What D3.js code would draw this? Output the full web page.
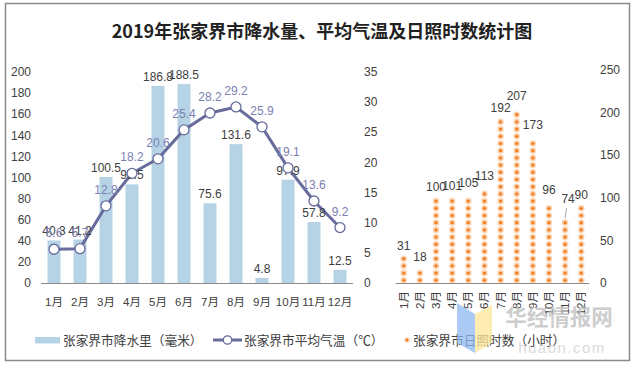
<!DOCTYPE html>
<html><head><meta charset="utf-8">
<script src="https://cdn.jsdelivr.net/npm/d3@7"></script>
<style>
html,body{margin:0;padding:0;background:#fff;}
svg{display:block;}
</style></head>
<body>
<svg id="c" width="636" height="366"></svg>
<script>
const months = ["1月","2月","3月","4月","5月","6月","7月","8月","9月","10月","11月","12月"];
const rainfall = [40.3,41.2,100.5,93.5,186.8,188.5,75.6,131.6,4.8,97.9,57.8,12.5];
const avgTemp = [5.6,5.7,12.8,18.2,20.6,25.4,28.2,29.2,25.9,19.1,13.6,9.2];
const sunHours = [31,18,100,101,105,113,192,207,173,96,74,90];
const rainTicks = [0,20,40,60,80,100,120,140,160,180,200];
const tempTicks = [0,5,10,15,20,25,30,35];
const sunTicks = [0,50,100,150,200,250];
const title = "2019年张家界市降水量、平均气温及日照时数统计图";
const legendLabels = ["张家界市降水里（毫米）","张家界市平均气温（℃）","张家界市日照时数（小时）"];

const svg = d3.select("#c");
const numFont = "'Liberation Sans', Arial, 'Noto Sans CJK SC', sans-serif";
const textCol = "#404040";
const barCol = "#b6d3e5";
const lineCol = "#676c9c";
const tempLabelCol = "#7a80b2";
const dotCol = "#f07a1c";
const dotHalo = "#fbd5b3";

// border
svg.append("rect").attr("x",5.5).attr("y",3.5).attr("width",624).attr("height",357)
  .attr("fill","#fff").attr("stroke","#8a8a8a").attr("stroke-width",1.5);

// title
svg.append("text").attr("x",322).attr("y",38).attr("text-anchor","middle")
  .attr("font-family","'Noto Sans CJK SC', sans-serif").attr("font-size",18).attr("font-weight","bold")
  .attr("fill","#222").text(title);

// ---------- left chart ----------
const x = d3.scaleBand().domain(months).range([41,353]).paddingInner(0.5).paddingOuter(0.25);
const yRain = d3.scaleLinear().domain([0,200]).range([283,72]);
const yTemp = d3.scaleLinear().domain([0,35]).range([283,72]);

const gL = svg.append("g");
gL.selectAll("rect.bar").data(rainfall).join("rect").attr("class","bar")
  .attr("x",(d,i)=>x(months[i])).attr("width",x.bandwidth())
  .attr("y",d=>yRain(d)).attr("height",d=>yRain(0)-yRain(d)).attr("fill",barCol);

gL.append("line").attr("x1",x.range()[0]).attr("x2",x.range()[1]).attr("y1",283.5).attr("y2",283.5)
  .attr("stroke","#8c8c8c").attr("stroke-width",1);

gL.selectAll("text.yl").data(rainTicks).join("text").attr("class","yl")
  .attr("x",31).attr("y",d=>yRain(d)).attr("dy","0.35em").attr("text-anchor","end")
  .attr("font-family",numFont).attr("font-size",12).attr("fill",textCol).text(d=>d);
gL.selectAll("text.yr").data(tempTicks).join("text").attr("class","yr")
  .attr("x",364).attr("y",d=>yTemp(d)).attr("dy","0.35em").attr("text-anchor","start")
  .attr("font-family",numFont).attr("font-size",12).attr("fill",textCol).text(d=>d);
gL.selectAll("text.xl").data(months).join("text").attr("class","xl")
  .attr("x",d=>x(d)+x.bandwidth()/2).attr("y",306).attr("text-anchor","middle")
  .attr("font-family",numFont).attr("font-size",11.5).attr("fill",textCol).text(d=>d);

const cx = i => x(months[i]) + x.bandwidth()/2;
const line = d3.line().x((d,i)=>cx(i)).y(d=>yTemp(d));
gL.append("path").datum(avgTemp).attr("d",line).attr("fill","none")
  .attr("stroke",lineCol).attr("stroke-width",3).attr("stroke-linejoin","round");
gL.selectAll("text.bl").data(rainfall).join("text").attr("class","bl")
  .attr("x",(d,i)=>cx(i)).attr("y",d=>yRain(d)-5).attr("text-anchor","middle")
  .attr("font-family",numFont).attr("font-size",12).attr("fill",textCol).text(d=>d);
gL.selectAll("text.tl").data(avgTemp).join("text").attr("class","tl")
  .attr("x",(d,i)=>cx(i)).attr("y",d=>yTemp(d)-12).attr("text-anchor","middle")
  .attr("font-family",numFont).attr("font-size",12).attr("fill",tempLabelCol).text(d=>d);
gL.selectAll("circle.m").data(avgTemp).join("circle").attr("class","m")
  .attr("cx",(d,i)=>cx(i)).attr("cy",d=>yTemp(d)).attr("r",5)
  .attr("fill","#fff").attr("stroke",lineCol).attr("stroke-width",1.3);

// ---------- right chart ----------
const xs = d3.scaleBand().domain(months).range([395.7,589.3]).padding(0);
const ys = d3.scaleLinear().domain([0,250]).range([283,70]);
const gR = svg.append("g");
const dotStep = 8.45, dotStart = 3.2;
sunHours.forEach((v,i)=>{
  const cxx = xs(months[i]) + xs.bandwidth()/2;
  const pts = [];
  for(let h=dotStart; ys(h) >= ys(v)+1.5; h+=dotStep) pts.push(h);
  const g = gR.append("g");
  g.selectAll("circle.h").data(pts).join("circle").attr("cx",cxx).attr("cy",d=>ys(d)).attr("r",3.3).attr("fill",dotHalo);
  g.selectAll("circle.d").data(pts).join("circle").attr("cx",cxx).attr("cy",d=>ys(d)).attr("r",1.6).attr("fill",dotCol);
});
gR.append("line").attr("x1",xs.range()[0]).attr("x2",xs.range()[1]).attr("y1",283.5).attr("y2",283.5)
  .attr("stroke","#8c8c8c").attr("stroke-width",1);
gR.selectAll("text.yt").data(sunTicks).join("text").attr("class","yt")
  .attr("x",600).attr("y",d=>ys(d)).attr("dy","0.35em").attr("text-anchor","start")
  .attr("font-family",numFont).attr("font-size",12).attr("fill",textCol).text(d=>d);
gR.selectAll("text.xt").data(months).join("text").attr("class","xt")
  .attr("transform",d=>`translate(${xs(d)+xs.bandwidth()/2},291) rotate(-90)`)
  .attr("dy","0.35em").attr("text-anchor","end")
  .attr("font-family",numFont).attr("font-size",11.5).attr("fill",textCol).text(d=>d);
// value labels (11月 label lifted with a leader line)
const lift = i => i===10 ? 10 : 0;
gR.selectAll("text.vl").data(sunHours).join("text").attr("class","vl")
  .attr("x",(d,i)=>xs(months[i])+xs.bandwidth()/2 + (i===10?3:0)).attr("y",(d,i)=>ys(d)-7-lift(i))
  .attr("text-anchor","middle")
  .attr("font-family",numFont).attr("font-size",12).attr("fill",textCol).text(d=>d);
{
  const i=10, cxx = xs(months[i])+xs.bandwidth()/2;
  gR.append("line").attr("x1",cxx+1.5).attr("x2",cxx).attr("y1",ys(sunHours[i])-12).attr("y2",ys(sunHours[i])-1.5)
    .attr("stroke","#a6a6a6").attr("stroke-width",1);
}

// ---------- legend ----------
const lg = svg.append("g").attr("font-family","'Noto Sans CJK SC', sans-serif").attr("font-size",12.7).attr("fill",textCol);
lg.append("rect").attr("x",35).attr("y",337).attr("width",25).attr("height",6.5).attr("fill",barCol);
lg.append("text").attr("x",63).attr("y",340).attr("dy","0.36em").text(legendLabels[0]);
lg.append("line").attr("x1",213).attr("x2",242).attr("y1",340).attr("y2",340).attr("stroke",lineCol).attr("stroke-width",3);
lg.append("circle").attr("cx",227.5).attr("cy",340).attr("r",4.2).attr("fill","#fff").attr("stroke",lineCol).attr("stroke-width",1.3);
lg.append("text").attr("x",244).attr("y",340).attr("dy","0.36em").text(legendLabels[1]);
lg.append("circle").attr("cx",407).attr("cy",340).attr("r",2.8).attr("fill",dotHalo);
lg.append("circle").attr("cx",407).attr("cy",340).attr("r",1.4).attr("fill",dotCol);
lg.append("text").attr("x",413).attr("y",340).attr("dy","0.36em").text(legendLabels[2]);

// ---------- watermark ----------
const wm = svg.append("g").attr("opacity",0.75);
wm.append("polygon").attr("points","457,303 475,314 475,353 457,343").attr("fill","#8fb9f2");
wm.append("polygon").attr("points","475,314 492,305 492,343 475,353").attr("fill","#fde79a");
wm.append("text").attr("x",559).attr("y",325).attr("text-anchor","middle")
  .attr("font-family","'Noto Sans CJK SC', sans-serif").attr("font-size",21.5).attr("font-weight","bold")
  .attr("fill","#bdbdbd").text("华经情报网");
wm.append("text").attr("x",562).attr("y",353).attr("text-anchor","middle")
  .attr("font-family","'Liberation Sans', Arial, sans-serif").attr("font-size",15).attr("letter-spacing",1.5)
  .attr("fill","#cfcfcf").text("huaon.com");
</script>
</body></html>
